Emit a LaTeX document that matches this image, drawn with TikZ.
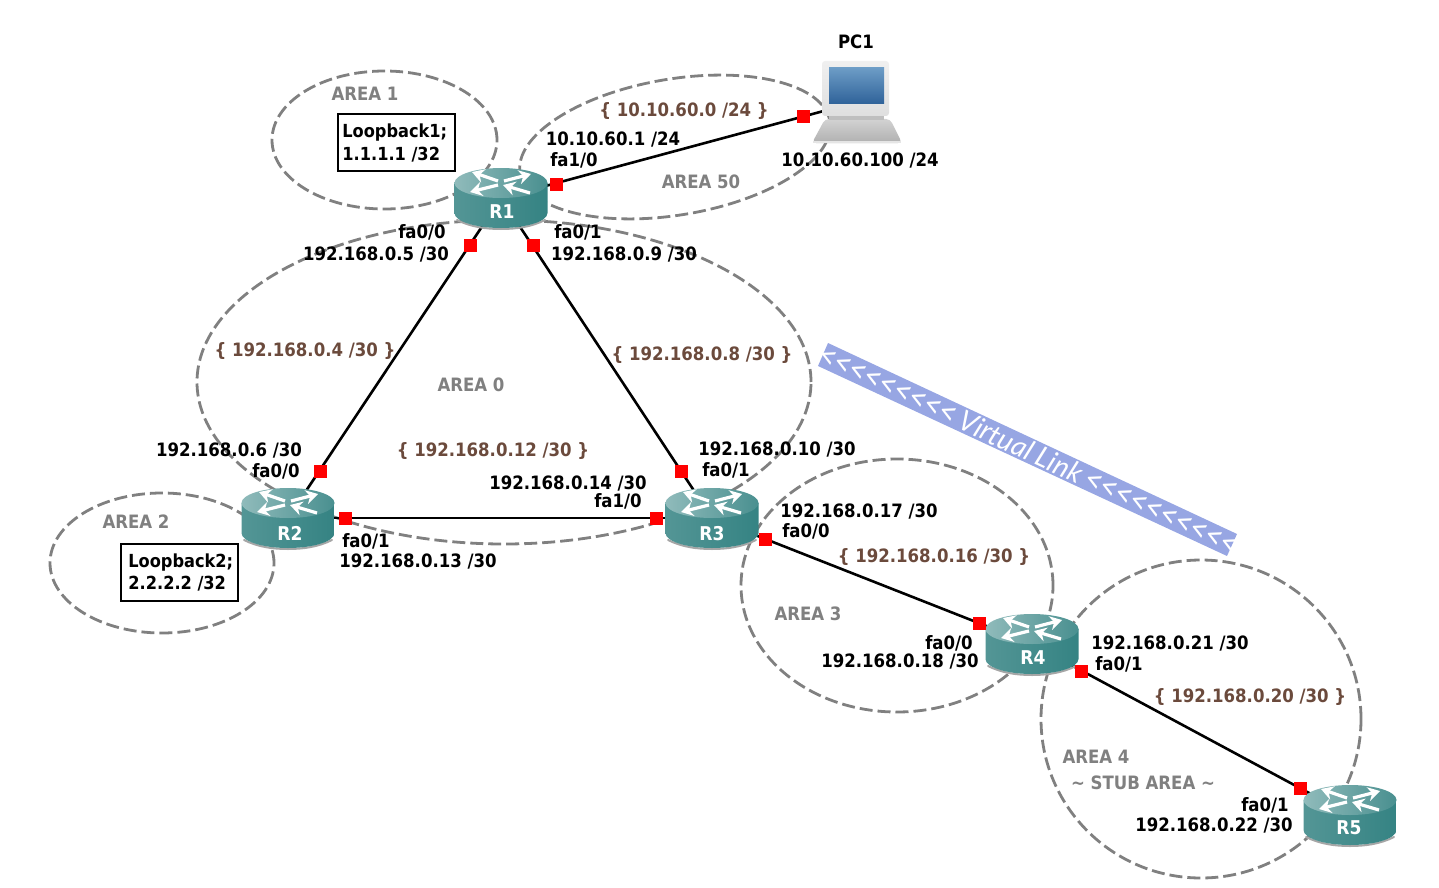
\documentclass[tikz,border=0pt]{standalone}
\usepackage{fontspec}
\setmainfont{DejaVu Sans Condensed}[BoldFont={DejaVu Sans Condensed Bold}]
\newfontfamily\vlfont{Lato}
\newcommand\chv{<\kern-1.0pt}
\newcommand\chvten{\chv\chv\chv\chv\chv\chv\chv\chv\chv\chv}
\usetikzlibrary{shapes.geometric,arrows.meta}
\definecolor{areagray}{HTML}{808080}
\definecolor{netbrown}{HTML}{6B4A3C}
\definecolor{vlblue}{HTML}{97A6E3}
\definecolor{tealmid}{HTML}{358383}
\definecolor{screenA}{HTML}{6C9CC6}
\definecolor{screenB}{HTML}{2F6299}
\tikzset{
  x=0.5pt,y=-0.5pt,
  area/.style={draw=areagray,line width=1.4pt,dash pattern=on 6.5pt off 2.5pt,fill=none},
  link/.style={draw=black,line width=1.3pt},
  port/.style={fill=red,draw=none,minimum size=6.5pt,inner sep=0pt,rectangle},
  spot/.style={inner sep=0pt,minimum size=1pt,draw=none},
  lab/.style={font=\bfseries\fontsize{9.2}{10}\selectfont,inner sep=0pt,text height=1.5ex,text depth=.25ex},
  looplab/.style={lab,font=\bfseries\fontsize{9}{10}\selectfont,anchor=west},
  net/.style={lab,text=netbrown},
  arealab/.style={lab,text=areagray},
  rlab/.style={lab,text=white,font=\bfseries\fontsize{9.5}{10}\selectfont},
  loopbox/.style={draw=black,line width=1pt,minimum width=58.5pt,minimum height=28.5pt,inner sep=0pt},
  router/.pic={
    \draw[gray!70,line width=1pt,line cap=round] (-44,22) .. controls (-30,29) and (-15,31) .. (0,31) .. controls (15,31) and (30,29) .. (44,22);
    \shade[left color=tealmid!85!white,middle color=tealmid,right color=tealmid]
      (-46.5,-15) -- (-46.5,15) .. controls (-46.5,23.3) and (-25.7,30) .. (0,30)
      .. controls (25.7,30) and (46.5,23.3) .. (46.5,15) -- (46.5,-15) -- cycle;
    \shade[left color=tealmid!55!white,middle color=tealmid!95!white,right color=tealmid!90!white]
      (0,-15) ellipse [x radius=23.25pt,y radius=7.5pt];
    \foreach \xa/\ya/\xb/\yb in {-3/-2/-29/-11, 3/-2/30/-9, -3/2/-31/9, 29/10/2/2}{
      \draw[white,line width=1.6pt,-{Stealth[length=6pt,width=7pt]}] (\xa,\ya-15) -- (\xb,\yb-15);
    }
  }
}
\begin{document}
\begin{tikzpicture}
\useasboundingbox (0,0) rectangle (1439,888);
% router and PC anchors
\node[spot] (R1) at (501,198) {};
\node[spot] (R2) at (288,518) {};
\node[spot] (R3) at (712,518) {};
\node[spot] (R4) at (1032,644) {};
\node[spot] (R5) at (1350,815) {};
\node[spot] (PC) at (857,102) {};
% areas
\draw[area] (384.5,140) ellipse [x radius=56.25pt,y radius=34.5pt];
\draw[area,rotate around={9.5:(675,147)}] (675,147) ellipse [x radius=78.5pt,y radius=34pt];
\draw[area] (504,382) ellipse [x radius=153.5pt,y radius=81pt];
\draw[area] (162,563) ellipse [x radius=56pt,y radius=35pt];
\draw[area] (897,585.5) ellipse [x radius=78pt,y radius=63.25pt];
\draw[area] (1201,719) ellipse [x radius=80pt,y radius=79.5pt];
% links
\draw[link] (R1.center) -- (R2.center);
\draw[link] (R1.center) -- (R3.center);
\draw[link] (R2.center) -- (R3.center);
\draw[link] (R3.center) -- (R4.center);
\draw[link] (R4.center) -- (R5.center);
\draw[link] (R1.center) -- (PC.center);
% routers
\foreach \n in {R1,R2,R3,R4,R5}{ \pic at (\n.center) {router}; }
% PC
\begin{scope}[shift={(PC.center)}]
\shade[top color=gray!35,bottom color=gray!62,rounded corners=2pt] (-32,17) -- (33,17) -- (45,41) -- (-45,41) -- cycle;
\draw[gray!20,line width=0.8pt,rounded corners=2pt] (-44,40) -- (44,40);
\fill[gray!50] (-28,13) rectangle (27,18);
\shade[top color=gray!12,bottom color=gray!25,rounded corners=1.5pt] (-35,-41) rectangle (32,14);
\shade[top color=screenA,bottom color=screenB] (-28,-34) rectangle (27,2);
\end{scope}
% virtual link banner
\path[fill=vlblue] (828,343) -- (1237,534) -- (1227,556) -- (818,366) -- cycle;
\node[spot,text=white,rotate=-25,font=\vlfont\fontsize{16}{17}\selectfont] (vl) at (1028,450) {\chvten\hspace{3pt}{\itshape\fontsize{14}{15}\selectfont Virtual Link}\hspace{2.5pt}\chvten\chv};
% ports
\node[port] (p1) at (556,184) {};
\node[port] (p2) at (803,117) {};
\node[port] (p3) at (470,245) {};
\node[port] (p4) at (533,245) {};
\node[port] (p5) at (320,471) {};
\node[port] (p6) at (681,471) {};
\node[port] (p7) at (345,518) {};
\node[port] (p8) at (656,518) {};
\node[port] (p9) at (765,539) {};
\node[port] (p10) at (979,623) {};
\node[port] (p11) at (1081,671) {};
\node[port] (p12) at (1300,788) {};
% router labels
\node[rlab] (lR1) at (502,212) {R1};
\node[rlab] (lR2) at (290,534) {R2};
\node[rlab] (lR3) at (712,534) {R3};
\node[rlab] (lR4) at (1033,658) {R4};
\node[rlab] (lR5) at (1349,828) {R5};
% boxes
\node[loopbox] (b1) at (396.5,142.5) {};
\node[looplab] (b1a) at (342,131) {Loopback1;};
\node[looplab] (b1b) at (342,154) {1.1.1.1 /32};
\node[loopbox] (b2) at (179.5,572.5) {};
\node[looplab] (b2a) at (128,561) {Loopback2;};
\node[looplab] (b2b) at (128,583) {2.2.2.2 /32};
% texts
\node[lab] (t1) at (856,42) {PC1};
\node[lab] (t2) at (860,160) {10.10.60.100 /24};
\node[lab] (t3) at (613,139) {10.10.60.1 /24};
\node[lab] (t4) at (574,160) {fa1/0};
\node[lab] (t5) at (422,232) {fa0/0};
\node[lab] (t6) at (376,254) {192.168.0.5 /30};
\node[lab] (t7) at (578,232) {fa0/1};
\node[lab] (t8) at (624,254) {192.168.0.9 /30};
\node[lab] (t9) at (229,450) {192.168.0.6 /30};
\node[lab] (t10) at (276,471) {fa0/0};
\node[lab] (t11) at (777,449) {192.168.0.10 /30};
\node[lab] (t12) at (726,470) {fa0/1};
\node[lab] (t13) at (568,483) {192.168.0.14 /30};
\node[lab] (t14) at (618,501) {fa1/0};
\node[lab] (t15) at (859,511) {192.168.0.17 /30};
\node[lab] (t16) at (806,531) {fa0/0};
\node[lab] (t17) at (366,541) {fa0/1};
\node[lab] (t18) at (418,561) {192.168.0.13 /30};
\node[lab] (t19) at (949,643) {fa0/0};
\node[lab] (t20) at (900,661) {192.168.0.18 /30};
\node[lab] (t21) at (1170,643) {192.168.0.21 /30};
\node[lab] (t22) at (1119,664) {fa0/1};
\node[lab] (t23) at (1265,805) {fa0/1};
\node[lab] (t24) at (1214,825) {192.168.0.22 /30};
% networks
\node[net] (n1) at (684,110) {\{ 10.10.60.0 /24 \}};
\node[net] (n2) at (305,350) {\{ 192.168.0.4 /30 \}};
\node[net] (n3) at (702,354) {\{ 192.168.0.8 /30 \}};
\node[net] (n4) at (493,450) {\{ 192.168.0.12 /30 \}};
\node[net] (n5) at (934,556) {\{ 192.168.0.16 /30 \}};
\node[net] (n6) at (1250,696) {\{ 192.168.0.20 /30 \}};
% areas labels
\node[arealab] (a1) at (365,94) {AREA 1};
\node[arealab] (a50) at (701,182) {AREA 50};
\node[arealab] (a0) at (471,385) {AREA 0};
\node[arealab] (a2) at (136,522) {AREA 2};
\node[arealab] (a3) at (808,614) {AREA 3};
\node[arealab] (a4) at (1096,757) {AREA 4};
\node[arealab] (a4b) at (1143,783) {\textasciitilde{} STUB AREA \textasciitilde};
\end{tikzpicture}
\end{document}
